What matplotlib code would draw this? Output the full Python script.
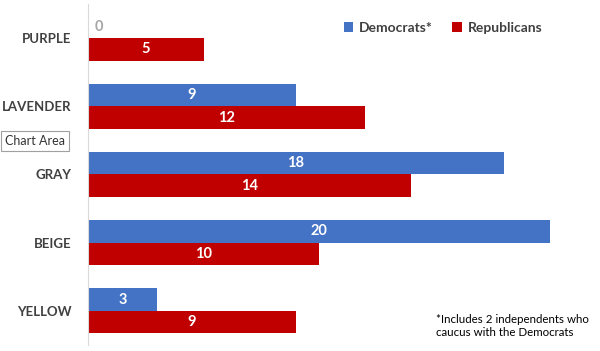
import numpy as np
import matplotlib.pyplot as plt

# -------- DATA --------
categories = ["PURPLE", "LAVENDER", "GRAY", "BEIGE", "YELLOW"]
democrats = [0, 9, 18, 20, 3]
republicans = [5, 12, 14, 10, 9]
series_names = ["Democrats*", "Republicans"]
footnote = "*Includes 2 independents who\ncaucus with the Democrats"

# -------- STYLE --------
plt.rcParams['font.family'] = ['Lato', 'DejaVu Sans']
blue = '#4472C4'
red = '#C00000'
text_dark = '#404040'

fig = plt.figure(figsize=(6.0, 3.51), dpi=100)
ax = fig.add_axes([88 / 600, 6 / 351, 502 / 600, 341 / 351])

y = np.arange(len(categories))
h = 0.33

bars_d = ax.barh(y - h / 2, democrats, height=h, color=blue, label=series_names[0])
bars_r = ax.barh(y + h / 2, republicans, height=h, color=red, label=series_names[1])

ax.set_xlim(0, 21.73)
ax.set_ylim(len(categories) - 0.5, -0.5)

ax.set_yticks(y)
ax.set_yticklabels(categories, fontsize=9.5, fontweight='bold', color=text_dark)
ax.tick_params(axis='y', length=0, pad=12)
ax.set_xticks([])

for s in ['top', 'right', 'bottom']:
    ax.spines[s].set_visible(False)
ax.spines['left'].set_color('#D9D9D9')

# data labels
for bars, vals in [(bars_d, democrats), (bars_r, republicans)]:
    for bar, v in zip(bars, vals):
        cy = bar.get_y() + bar.get_height() / 2
        if v == 0:
            ax.text(0.45, cy, f"{v}", ha='center', va='center',
                    fontsize=10.5, fontweight='bold', color='#A6A6A6')
        else:
            ax.text(v / 2, cy, f"{v}", ha='center', va='center',
                    fontsize=10.5, fontweight='bold', color='white')

# legend
leg = fig.legend(loc='center', bbox_to_anchor=(443 / 600, 1 - 28 / 351), ncol=2,
                 frameon=False, fontsize=10, handlelength=0.7, handleheight=0.7,
                 handletextpad=0.4, columnspacing=1.4)
for t in leg.get_texts():
    t.set_color(text_dark)
    t.set_fontweight('bold')

# footnote
fig.text(436 / 600, 1 - 326 / 351, footnote, ha='left', va='center',
         fontsize=8.3, color='black', linespacing=1.3)

# the "Chart Area" hover tag
fig.text(5 / 600, 1 - 141 / 351, "Chart Area", ha='left', va='center', fontsize=9,
         color='#333333',
         bbox=dict(boxstyle='square,pad=0.3', facecolor='white', edgecolor='#A0A0A0', linewidth=0.8))

fig.savefig('out.png', dpi=100)
